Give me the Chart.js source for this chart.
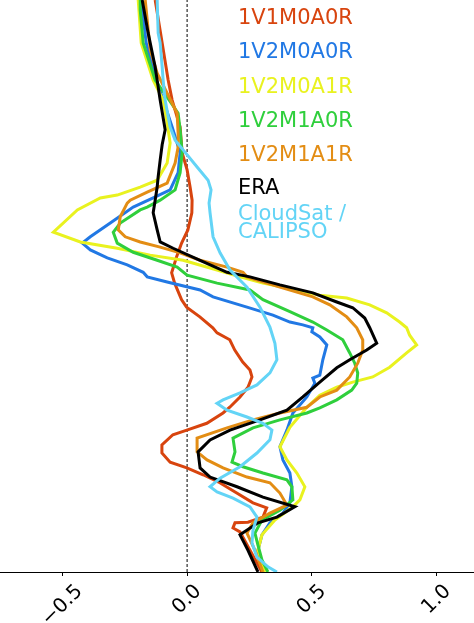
<!DOCTYPE html>
<html lang="en">
<head>
  <meta charset="UTF-8">
  <title>Profiles</title>
  <script src="https://cdn.jsdelivr.net/npm/chart.js"></script>
  <style>
    * { margin: 0; padding: 0; box-sizing: border-box; }
    body { background: #fff; }
    .chart-box { width: 474px; height: 623px; position: relative; }
  </style>
</head>
<body>
  <div class="chart-box">
    <canvas id="profileChart"></canvas>
  </div>

  <script>
    // x axis ticks
    const tickValues = [-0.5, 0.0, 0.5, 1.0];

    // each series: [value, level]  (level 0 = bottom, 100 = top of panel)
    const v1m0a0r = [
      [-0.128, 100], [-0.1, 92.5], [-0.076, 86.0], [-0.06, 82.5], [-0.028, 77.8], [-0.02, 73.3],
      [0.0, 70.3], [0.012, 67.3], [0.02, 65.0], [0.019, 62.8], [0.003, 59.8], [-0.022, 57.5],
      [-0.042, 55.1], [-0.062, 52.3], [-0.05, 50.5], [-0.022, 47.6], [-0.002, 46.3], [0.051, 44.6],
      [0.103, 42.7], [0.12, 41.8], [0.171, 40.6], [0.191, 38.8], [0.223, 36.7], [0.252, 35.3],
      [0.26, 34.1], [0.244, 32.3], [0.212, 30.6], [0.171, 28.8], [0.144, 27.8], [0.079, 26.0],
      [-0.001, 24.8], [-0.057, 24.0], [-0.101, 22.2], [-0.101, 20.8], [-0.068, 19.2], [-0.001, 18.2],
      [0.064, 17.0], [0.131, 15.6], [0.199, 13.8], [0.264, 12.1], [0.319, 11.2], [0.304, 9.6],
      [0.244, 8.7], [0.192, 8.6], [0.184, 7.7], [0.212, 7.0], [0.252, 3.8], [0.3, 0]
    ];
    const v2m0a0r = [
      [-0.184, 100], [-0.164, 92.5], [-0.124, 86.0], [-0.096, 82.5], [-0.06, 77.8], [-0.028, 73.3],
      [-0.036, 69.8], [-0.068, 66.8], [-0.136, 65.4], [-0.216, 63.8], [-0.308, 61.0], [-0.388, 58.6],
      [-0.42, 57.5], [-0.388, 56.3], [-0.32, 54.9], [-0.24, 53.7], [-0.176, 52.4], [-0.16, 51.6],
      [-0.08, 50.7], [0.052, 49.3], [0.104, 48.1], [0.24, 46.3], [0.344, 44.9], [0.412, 43.7],
      [0.464, 43.2], [0.504, 42.7], [0.5, 42.0], [0.532, 41.1], [0.56, 39.7], [0.544, 37.1],
      [0.532, 34.4], [0.504, 33.9], [0.512, 33.0], [0.48, 30.6], [0.424, 27.8], [0.4, 24.8],
      [0.372, 21.9], [0.384, 19.6], [0.412, 17.3], [0.42, 14.9], [0.412, 12.1], [0.384, 10.3],
      [0.332, 8.6], [0.3, 6.5], [0.284, 3.8], [0.308, 0]
    ];
    const v2m0a1r = [
      [-0.196, 100], [-0.184, 92.5], [-0.136, 86.0], [-0.096, 82.5], [-0.08, 78.5], [-0.068, 75.0],
      [-0.08, 71.5], [-0.12, 68.5], [-0.188, 67.3], [-0.28, 65.9], [-0.348, 65.4], [-0.44, 63.3],
      [-0.536, 59.4], [-0.428, 57.7], [-0.28, 56.6], [-0.148, 55.4], [-0.016, 54.5], [0.12, 52.8],
      [0.212, 51.6], [0.304, 50.5], [0.44, 49.3], [0.532, 48.4], [0.64, 47.9], [0.732, 46.7],
      [0.8, 45.3], [0.852, 43.7], [0.88, 42.7], [0.892, 41.4], [0.92, 39.7], [0.88, 38.3],
      [0.812, 35.8], [0.744, 34.1], [0.664, 33.2], [0.6, 32.3], [0.532, 30.9], [0.48, 28.8],
      [0.412, 25.3], [0.372, 21.9], [0.4, 19.6], [0.44, 17.3], [0.472, 14.9], [0.452, 12.6],
      [0.424, 11.4], [0.352, 9.1], [0.3, 6.5], [0.284, 3.8], [0.312, 0]
    ];
    const v2m1a0r = [
      [-0.188, 100], [-0.188, 98.3], [-0.176, 92.5], [-0.128, 86.0], [-0.08, 83.0], [-0.036, 80.2],
      [-0.028, 77.3], [-0.02, 73.3], [-0.028, 69.8], [-0.048, 66.8], [-0.108, 65.0], [-0.16, 63.8],
      [-0.188, 63.3], [-0.268, 61.0], [-0.296, 59.4], [-0.28, 57.5], [-0.216, 55.9], [-0.12, 54.5],
      [-0.04, 53.3], [0.0, 51.9], [0.12, 50.5], [0.252, 49.3], [0.304, 47.6], [0.412, 45.5],
      [0.504, 43.7], [0.56, 42.3], [0.624, 40.6], [0.652, 38.3], [0.672, 36.5], [0.684, 34.8],
      [0.68, 33.0], [0.66, 31.8], [0.6, 30.1], [0.532, 28.7], [0.48, 27.8], [0.372, 26.6],
      [0.264, 25.2], [0.184, 23.4], [0.192, 21.0], [0.18, 19.2], [0.224, 18.4], [0.304, 17.3],
      [0.4, 16.1], [0.42, 14.9], [0.424, 12.6], [0.372, 10.8], [0.3, 9.1], [0.272, 6.8],
      [0.284, 4.7], [0.3, 2.1], [0.324, 0]
    ];
    const v2m1a1r = [
      [-0.168, 100], [-0.148, 91.3], [-0.12, 87.2], [-0.08, 83.7], [-0.04, 80.2], [-0.036, 76.7],
      [-0.036, 74.3], [-0.048, 71.5], [-0.08, 68.0], [-0.16, 66.4], [-0.228, 65.0], [-0.24, 64.5],
      [-0.268, 62.1], [-0.276, 59.8], [-0.248, 58.6], [-0.188, 57.7], [-0.108, 56.8], [-0.028, 55.8],
      [0.052, 54.5], [0.16, 53.3], [0.224, 52.4], [0.24, 51.6], [0.372, 49.8], [0.504, 48.1],
      [0.572, 46.7], [0.64, 44.6], [0.68, 42.7], [0.704, 40.6], [0.704, 38.8], [0.684, 36.5],
      [0.652, 34.1], [0.6, 31.8], [0.532, 30.6], [0.48, 28.8], [0.372, 27.8], [0.264, 26.6],
      [0.16, 25.2], [0.04, 23.4], [0.04, 21.0], [0.08, 19.6], [0.144, 18.2], [0.24, 16.6],
      [0.332, 15.6], [0.372, 13.8], [0.4, 11.7], [0.332, 10.3], [0.264, 8.6], [0.24, 6.8],
      [0.272, 3.8], [0.304, 0]
    ];
    const era = [
      [-0.18, 100], [-0.156, 94.2], [-0.128, 88.3], [-0.108, 82.5], [-0.088, 77.3], [-0.1, 74.7],
      [-0.108, 72.0], [-0.116, 69.1], [-0.12, 67.3], [-0.128, 65.0], [-0.136, 62.8], [-0.12, 59.8],
      [-0.108, 57.7], [-0.056, 56.6], [0.052, 54.5], [0.16, 52.4], [0.252, 51.6], [0.372, 50.2],
      [0.504, 48.8], [0.6, 47.2], [0.664, 46.2], [0.712, 44.4], [0.732, 42.7], [0.76, 40.0],
      [0.72, 38.8], [0.652, 37.1], [0.6, 35.7], [0.532, 33.2], [0.464, 30.6], [0.4, 28.3],
      [0.292, 26.6], [0.172, 24.8], [0.092, 23.1], [0.044, 21.0], [0.052, 18.2], [0.092, 16.6],
      [0.2, 14.9], [0.304, 13.1], [0.432, 11.4], [0.36, 9.6], [0.284, 8.6], [0.212, 6.5],
      [0.244, 3.8], [0.284, 0]
    ];
    const cloudsat = [
      [-0.12, 100], [-0.116, 94.2], [-0.108, 92.5], [-0.1, 88.3], [-0.096, 86.0], [-0.088, 82.5],
      [-0.068, 77.8], [-0.048, 75.5], [-0.016, 73.8], [0.04, 70.8], [0.084, 68.5], [0.096, 66.8],
      [0.088, 64.5], [0.092, 62.8], [0.104, 58.6], [0.132, 55.8], [0.172, 52.8], [0.24, 49.8],
      [0.292, 46.3], [0.332, 42.8], [0.352, 40.0], [0.36, 37.1], [0.332, 34.8], [0.28, 32.7],
      [0.212, 31.3], [0.144, 30.1], [0.12, 29.5], [0.16, 28.3], [0.24, 27.1], [0.304, 26.0],
      [0.34, 24.8], [0.332, 23.1], [0.28, 20.8], [0.212, 18.4], [0.132, 16.4], [0.092, 14.9],
      [0.12, 14.0], [0.184, 12.9], [0.252, 11.4], [0.28, 9.6], [0.264, 7.3], [0.26, 5.1],
      [0.28, 2.6], [0.324, 0.9], [0.36, 0]
    ];

    const seriesNames = ['1V1M0A0R', '1V2M0A0R', '1V2M0A1R', '1V2M1A0R', '1V2M1A1R', 'ERA', 'CloudSat /\nCALIPSO'];
    const seriesData = [v1m0a0r, v2m0a0r, v2m0a1r, v2m1a0r, v2m1a1r, era, cloudsat];
    const seriesColors = ['#d8440e', '#2178e4', '#e9f21f', '#2fcf3c', '#e38d14', '#000000', '#63d4f6'];

    const zeroLine = [[0, 0], [0, 100]];

    const toPoints = arr => arr.map(p => ({ x: p[0], y: p[1] }));

    const datasets = seriesData.map((d, i) => ({
      label: seriesNames[i],
      data: toPoints(d),
      borderColor: seriesColors[i],
      borderWidth: 3,
      showLine: true,
      pointRadius: 0,
      tension: 0,
      order: seriesData.length - i
    }));
    datasets.unshift({
      label: 'zero',
      data: toPoints(zeroLine),
      borderColor: '#000',
      borderWidth: 1,
      borderDash: [3, 2],
      showLine: true,
      pointRadius: 0,
      order: 99
    });

    // legend: colored names, no handles
    const textLegend = {
      id: 'textLegend',
      afterDraw(chart) {
        const ctx = chart.ctx;
        const baselines = [24, 58, 93, 127, 161, 194, 220];
        ctx.save();
        ctx.font = '21px "DejaVu Sans"';
        ctx.textAlign = 'left';
        ctx.textBaseline = 'alphabetic';
        seriesNames.forEach((name, i) => {
          ctx.fillStyle = seriesColors[i];
          name.split('\n').forEach((line, j) => {
            ctx.fillText(line, 238, baselines[i] + j * 18);
          });
        });
        ctx.restore();
      }
    };

    // rotated tick labels centred under each tick
    const rotatedTicks = {
      id: 'rotatedTicks',
      afterDraw(chart) {
        const ctx = chart.ctx;
        const xs = chart.scales.x;
        const top = chart.chartArea.bottom + 11;
        ctx.save();
        ctx.font = '20px "DejaVu Sans"';
        ctx.fillStyle = '#000';
        ctx.textAlign = 'center';
        ctx.textBaseline = 'middle';
        tickValues.forEach(v => {
          const label = v.toFixed(1).replace('-', '\u2212');
          const w = ctx.measureText(label).width;
          const h = 15;
          const half = (w + h) * Math.SQRT1_2 / 2;
          const cx = xs.getPixelForValue(v);
          ctx.save();
          ctx.translate(cx, top + half);
          ctx.rotate(-Math.PI / 4);
          ctx.fillText(label, 0, 0);
          ctx.restore();
        });
        ctx.restore();
      }
    };

    new Chart(document.getElementById('profileChart'), {
      type: 'scatter',
      data: { datasets },
      options: {
        responsive: true,
        maintainAspectRatio: false,
        animation: false,
        layout: { padding: 0 },
        plugins: { legend: { display: false }, tooltip: { enabled: false } },
        scales: {
          x: {
            type: 'linear',
            min: -0.75,
            max: 1.15,
            afterBuildTicks: scale => { scale.ticks = tickValues.map(v => ({ value: v })); },
            afterFit: scale => { scale.height = 51; },
            ticks: { display: false },
            grid: { drawOnChartArea: false, drawTicks: true, tickLength: 4, color: '#000', lineWidth: 1 },
            border: { display: true, color: '#000', width: 1 }
          },
          y: { type: 'linear', min: 0, max: 100, display: false }
        }
      },
      plugins: [textLegend, rotatedTicks]
    });
  </script>
</body>
</html>
